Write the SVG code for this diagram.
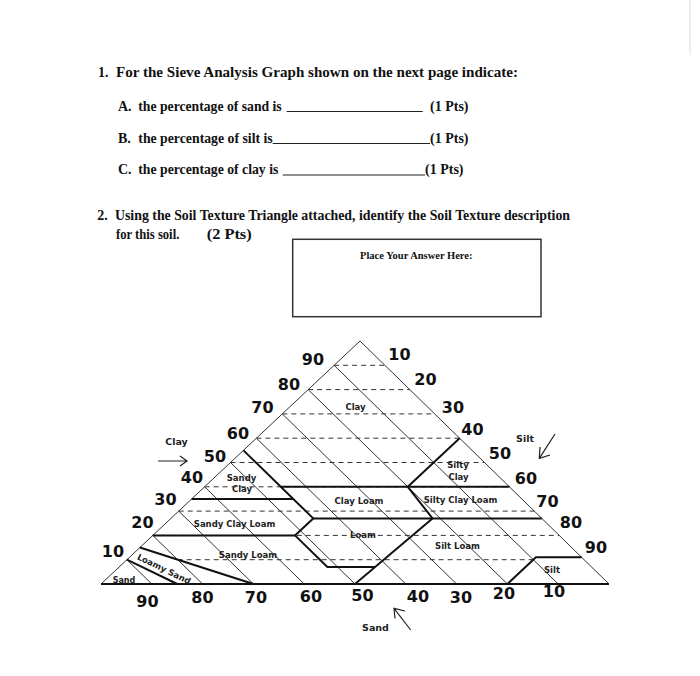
<svg xmlns="http://www.w3.org/2000/svg" width="700" height="676" viewBox="0 0 700 676">
<style>
.q{font-family:"Liberation Serif","Times New Roman",serif;font-weight:bold;font-size:14px;fill:#111}
.n{font-family:"DejaVu Sans",Verdana,sans-serif;font-weight:bold;font-size:16px;fill:#111;text-anchor:middle}
.s{font-family:"DejaVu Sans",Verdana,sans-serif;font-weight:bold;font-size:8.5px;fill:#222;text-anchor:middle}
.o{font-family:"DejaVu Sans",Verdana,sans-serif;font-weight:bold;font-size:9.5px;fill:#222;text-anchor:middle}
.d{stroke:#333;stroke-width:1;stroke-dasharray:5 4;fill:none}
.t{stroke:#333;stroke-width:1;fill:none}
.b{stroke:#111;stroke-width:2;fill:none;stroke-linejoin:round}
.u{stroke:#222;stroke-width:1.2}
</style>
<rect width="700" height="676" fill="#fff"/>
<line x1="690" y1="0" x2="690" y2="55" stroke="#ddd" stroke-width="1"/>
<g id="questions">
<text class="q" x="98" y="77">1.</text>
<text class="q" x="116" y="77" textLength="402" lengthAdjust="spacingAndGlyphs">For the Sieve Analysis Graph shown on the next page indicate:</text>
<text class="q" x="118" y="110.7">A.</text>
<text class="q" x="138.3" y="110.7" textLength="143.4" lengthAdjust="spacingAndGlyphs">the percentage of sand is</text>
<line class="u" x1="286.7" y1="111.5" x2="422.7" y2="111.5"/>
<text class="q" x="430" y="110.7">(1 Pts)</text>
<text class="q" x="118" y="143">B.</text>
<text class="q" x="138.3" y="143" textLength="134.4" lengthAdjust="spacingAndGlyphs">the percentage of silt is</text>
<line class="u" x1="272.7" y1="143.5" x2="430" y2="143.5"/>
<text class="q" x="430" y="143">(1 Pts)</text>
<text class="q" x="118" y="174.3">C.</text>
<text class="q" x="138.3" y="174.3" textLength="140" lengthAdjust="spacingAndGlyphs">the percentage of clay is</text>
<line class="u" x1="282.7" y1="175" x2="425" y2="175"/>
<text class="q" x="425" y="174.3">(1 Pts)</text>
<text class="q" x="97.3" y="220">2.</text>
<text class="q" x="115" y="220" textLength="455" lengthAdjust="spacingAndGlyphs">Using the Soil Texture Triangle attached, identify the Soil Texture description</text>
<text class="q" x="116" y="238.7" textLength="63.3" lengthAdjust="spacingAndGlyphs">for this soil.</text>
<text class="q" x="206.7" y="238.7" textLength="45" lengthAdjust="spacingAndGlyphs">(2 Pts)</text>
</g>
<g id="answer-box">
<rect x="292.7" y="239.3" width="248.3" height="77.4" fill="none" stroke="#333" stroke-width="1.5"/>
<text class="q" x="360" y="259" style="font-size:10.5px">Place Your Answer Here:</text>
</g>
<g id="grid">
<line class="d" x1="177.7" y1="559.7" x2="533.3" y2="559.7"/>
<line class="d" x1="152.8" y1="535.4" x2="559.2" y2="535.4"/>
<line class="d" x1="178.7" y1="511.1" x2="534.3" y2="511.1"/>
<line class="d" x1="204.6" y1="486.8" x2="509.4" y2="486.8"/>
<line class="d" x1="230.5" y1="462.5" x2="484.5" y2="462.5"/>
<line class="d" x1="256.4" y1="438.2" x2="459.6" y2="438.2"/>
<line class="d" x1="282.3" y1="413.9" x2="434.7" y2="413.9"/>
<line class="d" x1="308.2" y1="389.6" x2="409.8" y2="389.6"/>
<line class="d" x1="334.1" y1="365.3" x2="384.9" y2="365.3"/>
<line class="t" x1="558.2" y1="584" x2="334.1" y2="365.3"/>
<line class="t" x1="507.4" y1="584" x2="308.2" y2="389.6"/>
<line class="t" x1="456.6" y1="584" x2="282.3" y2="413.9"/>
<line class="t" x1="405.8" y1="584" x2="256.4" y2="438.2"/>
<line class="t" x1="355" y1="584" x2="230.5" y2="462.5"/>
<line class="t" x1="304.2" y1="584" x2="204.6" y2="486.8"/>
<line class="t" x1="253.4" y1="584" x2="178.7" y2="511.1"/>
<line class="t" x1="202.6" y1="584" x2="152.8" y2="535.4"/>
<line class="t" x1="151.8" y1="584" x2="126.9" y2="559.7"/>
<path class="t" d="M101 584 L360 341 L609 584" stroke-width="1.2"/>
<line x1="101" y1="584" x2="609" y2="584" stroke="#111" stroke-width="2"/>
</g>
<g id="boundaries">
<polyline class="b" points="243.45,450.35 313.2,518.4 295,535.4 327.4,567 375,567"/>
<line class="b" x1="191.65" y1="498.95" x2="293.25" y2="498.95"/>
<line class="b" x1="280.8" y1="486.8" x2="509.4" y2="486.8"/>
<line class="b" x1="407.8" y1="486.8" x2="459.6" y2="438.2"/>
<line class="b" x1="407.8" y1="486.8" x2="432.5" y2="518.4"/>
<line class="b" x1="313.2" y1="518.4" x2="541.8" y2="518.4"/>
<line class="b" x1="152.8" y1="535.4" x2="295" y2="535.4"/>
<line class="b" x1="355" y1="584" x2="432.5" y2="518.4"/>
<polyline class="b" points="507.4,584 535.9,557.3 581.6,557.3"/>
<line class="b" x1="139.9" y1="547.55" x2="253.4" y2="584"/>
<line class="b" x1="126.9" y1="559.7" x2="177.2" y2="584"/>
</g>
<g id="clay-scale">
<text class="n" x="313" y="365">90</text>
<text class="n" x="289" y="389.5">80</text>
<text class="n" x="262.5" y="413">70</text>
<text class="n" x="238" y="439">60</text>
<text class="n" x="215" y="462">50</text>
<text class="n" x="192" y="483">40</text>
<text class="n" x="165.5" y="505">30</text>
<text class="n" x="142.5" y="528">20</text>
<text class="n" x="113" y="557">10</text>
</g>
<g id="silt-scale">
<text class="n" x="399.5" y="360">10</text>
<text class="n" x="425.5" y="385">20</text>
<text class="n" x="453" y="413">30</text>
<text class="n" x="472.5" y="435">40</text>
<text class="n" x="500" y="459">50</text>
<text class="n" x="526" y="484">60</text>
<text class="n" x="547.5" y="507">70</text>
<text class="n" x="571" y="528">80</text>
<text class="n" x="596" y="553">90</text>
</g>
<g id="sand-scale">
<text class="n" x="147.5" y="607">90</text>
<text class="n" x="202.5" y="603">80</text>
<text class="n" x="256" y="603">70</text>
<text class="n" x="311" y="602">60</text>
<text class="n" x="362.5" y="601">50</text>
<text class="n" x="418" y="602">40</text>
<text class="n" x="461" y="603">30</text>
<text class="n" x="504" y="599">20</text>
<text class="n" x="554" y="597">10</text>
</g>
<g id="classes">
<text class="s" x="355.5" y="409.5">Clay</text>
<text class="s" x="241.5" y="481">Sandy</text>
<text class="s" x="242" y="491.5">Clay</text>
<text class="s" x="234.5" y="526.5">Sandy Clay Loam</text>
<text class="s" x="359" y="504">Clay Loam</text>
<text class="s" x="458" y="467.5">Silty</text>
<text class="s" x="458.5" y="479.5">Clay</text>
<text class="s" x="460.5" y="503">Silty Clay Loam</text>
<text class="s" x="363" y="538">Loam</text>
<text class="s" x="457.5" y="549">Silt Loam</text>
<text class="s" x="248" y="557.5">Sandy Loam</text>
<text class="s" transform="translate(164,569) rotate(26)" x="0" y="3">Loamy Sand</text>
<text class="s" x="124" y="582.5" style="font-size:8px">Sand</text>
<text class="s" x="552" y="573">Silt</text>
</g>
<g id="axis-titles">
<text class="o" x="176.5" y="444.5">Clay</text>
<path d="M158 461 H187 M180 456 L187 461 L180 466" fill="none" stroke="#222" stroke-width="1.2"/>
<text class="o" x="525" y="442">Silt</text>
<path d="M555 434 L539.3 458.3 M540 447 L539.3 458.3 L550 455" fill="none" stroke="#222" stroke-width="1.2"/>
<text class="o" x="375.5" y="631">Sand</text>
<path d="M410.7 630 L394 608.3 M405 611 L394 608.3 L395 618.5" fill="none" stroke="#222" stroke-width="1.2"/>
</g>
</svg>
